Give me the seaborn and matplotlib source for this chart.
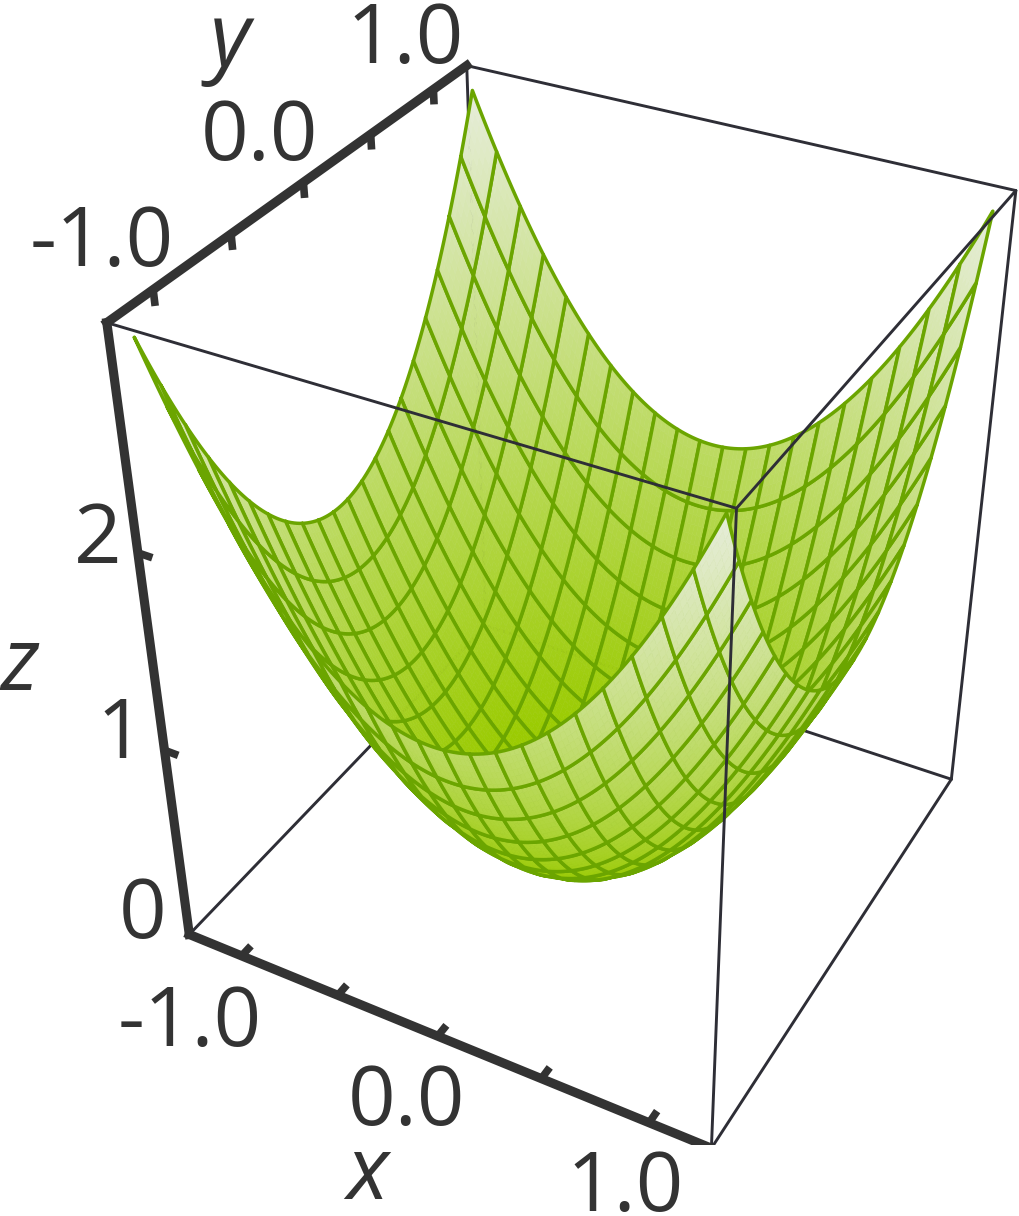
import numpy as np
import matplotlib
matplotlib.use("Agg")
import matplotlib.pyplot as plt
import seaborn as sns
from mpl_toolkits.mplot3d import proj3d
from mpl_toolkits.mplot3d.art3d import Poly3DCollection, Line3DCollection

sns.set_theme(style="white")
plt.rcParams['font.family'] = ['Open Sans', 'DejaVu Sans']

# ---- data -----
x_ticks = [-1.0, -0.5, 0.0, 0.5, 1.0]
y_ticks = [-1.0, -0.5, 0.0, 0.5, 1.0]
z_ticks = [0, 1, 2]
x_tick_labels = ['-1.0', '0.0', '1.0']
y_tick_labels = ['-1.0', '0.0', '1.0']
z_tick_labels = ['0', '1', '2']
surface_half_width = 1.215
mesh_cells = 21
sub_cells = 6
box_x = (-1.28, 1.28)
box_y = (-1.28, 1.28)
box_z = (-0.05, 3.03)
low_color = '#9acb00'
high_color = '#e6edda'
mesh_color = '#6ba500'

W, H = 1020, 1216
cx, cy, ppu = 583.01, 580.11, 5948.58
fig = plt.figure(figsize=(W/100, H/100), dpi=100)
size = 0.185*ppu
ax = fig.add_axes([(cx-0.095*ppu)/W, ((H-cy)-0.095*ppu)/H, size/W, size/H],
                  projection='3d', computed_zorder=False)
ax.set_xlim(*box_x, view_margin=0)
ax.set_ylim(*box_y, view_margin=0)
ax.set_zlim(*box_z, view_margin=0)
ax.set_axis_off()
ax.view_init(elev=35.808, azim=-61.202, roll=0.291)
ax.set_proj_type('persp', focal_length=0.4127)
ax.set_box_aspect((1, 1.0057, 1.2065))

cmap = sns.blend_palette([low_color, high_color], as_cmap=True)
edges = np.linspace(-surface_half_width, surface_half_width, mesh_cells+1)
M = ax.get_proj()
def zf(x, y): return x**2 + y**2
zmax = 2*surface_half_width**2
zsat = 0.25
cells = []
for i in range(mesh_cells):
    for j in range(mesh_cells):
        ux = np.linspace(edges[i], edges[i+1], sub_cells+1)
        uy = np.linspace(edges[j], edges[j+1], sub_cells+1)
        X, Y = np.meshgrid(ux, uy, indexing='ij')
        Z = zf(X, Y)
        polys, cols = [], []
        for a in range(sub_cells):
            for b in range(sub_cells):
                polys.append([(X[a,b],Y[a,b],Z[a,b]),(X[a+1,b],Y[a+1,b],Z[a+1,b]),
                              (X[a+1,b+1],Y[a+1,b+1],Z[a+1,b+1]),(X[a,b+1],Y[a,b+1],Z[a,b+1])])
                cols.append(cmap(max(Z[a:a+2,b:b+2].mean()-zsat, 0)/(zmax-zsat)))
        border = np.vstack([np.c_[X[:,0],Y[:,0],Z[:,0]], np.c_[X[-1,:],Y[-1,:],Z[-1,:]],
                            np.c_[X[::-1,-1],Y[::-1,-1],Z[::-1,-1]], np.c_[X[0,::-1],Y[0,::-1],Z[0,::-1]]])
        _, _, tz = proj3d.proj_transform(X.ravel(), Y.ravel(), Z.ravel(), M)
        cells.append((np.mean(tz), polys, cols, border))
cells.sort(key=lambda c: -c[0])
for rank, (_, polys, cols, border) in enumerate(cells):
    z0 = 10 + rank*0.01
    pc = Poly3DCollection(polys, facecolors=cols, edgecolors=cols, linewidths=0.4, zorder=z0)
    ax.add_collection3d(pc)
    lc = Line3DCollection([border], colors=mesh_color, linewidths=2.5, zorder=z0+0.001, capstyle='round', joinstyle='round')
    ax.add_collection3d(lc)

def seg(p, q, lw, color, zo, cap='round'):
    ax.plot([p[0],q[0]],[p[1],q[1]],[p[2],q[2]], color=color, lw=lw, zorder=zo, solid_capstyle=cap)
xa, xb = box_x; ya, yb = box_y; za, zb = box_z
thin = '#2e2e36'; thick = '#333333'
for p1, q1 in [((xa,yb,zb),(xb,yb,zb)),((xa,yb,zb),(xa,yb,za)),((xa,ya,za),(xa,yb,za)),((xa,yb,za),(xb,yb,za)),((xb,yb,zb),(xb,yb,za))]:
    seg(p1, q1, 2.1, thin, 1)
for p1, q1 in [((xa,ya,zb),(xb,ya,zb)),((xb,ya,zb),(xb,yb,zb)),((xb,ya,zb),(xb,ya,za)),((xb,ya,za),(xb,yb,za))]:
    seg(p1, q1, 2.1, thin, 50)
for p1, q1 in [((xa,ya,zb),(xa,yb,zb)),((xa,ya,zb),(xa,ya,za)),((xa,ya,za),(xb,ya,za))]:
    seg(p1, q1, 6.6, thick, 60, 'projecting')
tl = 0.07
for t in x_ticks: seg((t,ya,za),(t,ya+tl,za),5.5,thick,60,'butt')
for t in y_ticks: seg((xa,t,zb),(xa,t,zb-tl),5.5,thick,60,'butt')
for t in z_ticks[1:]: seg((xa,ya,t),(xa+tl,ya,t),5.5,thick,60,'butt')

def label(px, py, s_, size=60, style='normal'):
    fig.text(px/W, 1-py/H, s_, ha='center', va='center', fontsize=size, color='#333333', style=style)
for (px,py),s_ in zip([(102,245),(260,139),(405,42)], y_tick_labels): label(px,py,s_)
for (px,py),s_ in zip([(190,1025),(407,1104),(625,1190)], x_tick_labels): label(px,py,s_)
for (px,py),s_ in zip([(143,917),(120,737),(98,542)], z_tick_labels): label(px,py,s_)
label(230,43,'y',63,'italic'); label(367,1176,'x',63,'italic'); label(20,667,'z',63,'italic')

fig.savefig('out.png', dpi=100)
